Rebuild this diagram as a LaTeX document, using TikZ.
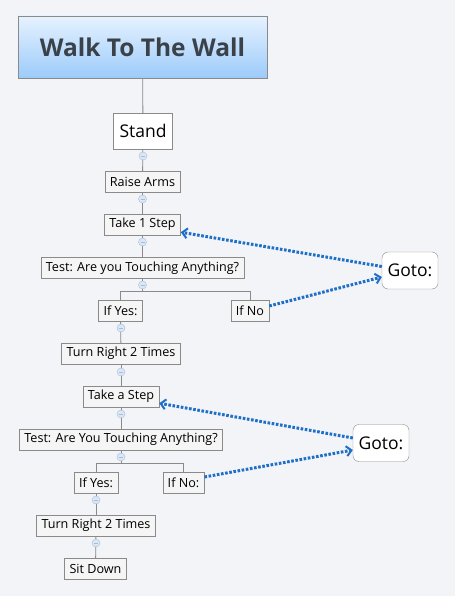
\documentclass[tikz,border=0pt]{standalone}
\usepackage{fontspec}
\setmainfont{Open Sans}
\usetikzlibrary{arrows.meta,positioning}

\definecolor{pagebg}{HTML}{F2F4F8}
\definecolor{titletop}{HTML}{E6F2FF}
\definecolor{titlebot}{HTML}{9CCBFA}
\definecolor{titletext}{HTML}{3A4149}
\definecolor{boxline}{HTML}{8A8A8A}
\definecolor{foldfill}{HTML}{DCE7F5}
\definecolor{folddraw}{HTML}{A8BCD8}
\definecolor{jumpblue}{HTML}{1F6FC9}

\begin{document}
\begin{tikzpicture}[
  x=1pt, y=-1pt,
  title/.style={rectangle, draw=boxline, top color=titletop, bottom color=titlebot,
                text=titletext, font=\fontsize{24.5}{28}\selectfont\bfseries,
                minimum width=249, minimum height=62},
  topic/.style={rectangle, draw=boxline, fill=white, font=\fontsize{17.5}{20}\selectfont,
                inner xsep=6pt, minimum height=36},
  task/.style={rectangle, draw=boxline, fill=white!96!black, font=\fontsize{12.6}{15}\selectfont,
               inner xsep=5pt, inner ysep=0pt, minimum height=21},
  jump/.style={rectangle, rounded corners=6pt, draw=boxline, fill=white,
               font=\fontsize{17.5}{20}\selectfont, minimum width=56, minimum height=37},
  link/.style={draw=boxline, line width=0.8pt},
  fold/.style={circle, draw=folddraw, fill=foldfill, inner sep=0pt, minimum size=8,
               path picture={\draw[folddraw, line width=0.6pt]
                 ([xshift=-2pt]path picture bounding box.center) --
                 ([xshift=2pt]path picture bounding box.center);}},
  goto/.style={-{Straight Barb[length=5pt, width=10pt, line width=2pt]},
               line width=3pt, dash pattern=on 2.6pt off 1.6pt, draw=jumpblue},
]

\fill[pagebg] (0,0) rectangle (455,596);
\useasboundingbox (0,0) rectangle (455,596);

% --- main branch ---
\node[title] (walk) at (142.5,47) {Walk To The Wall};
\node[topic] (stand) at (143,131) {Stand};
\node[task] (raise) at (142.5,181.5) {Raise Arms};
\node[task] (step1) at (142.5,224.5) {Take 1 Step};
\node[task] (test1) at (142.5,268) {Test: Are you Touching Anything?};
\node[task] (yes1) at (120.5,311) {If Yes:};
\node[task] (no1) at (250,311) {If No};

% --- second loop ---
\node[task] (turn1) at (121,353.5) {Turn Right 2 Times};
\node[task] (step2) at (121,396.5) {Take a Step};
\node[task] (test2) at (121,439.5) {Test: Are You Touching Anything?};
\node[task] (yes2) at (96,482.5) {If Yes:};
\node[task] (no2) at (183.5,482.5) {If No:};
\node[task] (turn2) at (96,525.5) {Turn Right 2 Times};
\node[task] (sit) at (95.5,568.5) {Sit Down};

% --- goto bubbles ---
\node[jump] (goto1) at (410,270.5) {Goto:};
\node[jump] (goto2) at (381,443) {Goto:};

% --- tree lines ---
\coordinate (fork1) at (142.5,291);
\coordinate (fork2) at (121,463);
\draw[link] (walk) -- (stand);
\draw[link] (stand) -- (raise);
\draw[link] (raise) -- (step1);
\draw[link] (step1) -- (test1);
\draw[link] (test1.south) -- (fork1) -| (yes1);
\draw[link] (fork1) -| (no1);
\draw[link] (yes1) -- (turn1);
\draw[link] (turn1) -- (step2);
\draw[link] (step2) -- (test2);
\draw[link] (test2.south) -- (fork2) -| (yes2);
\draw[link] (fork2) -| (no2);
\draw[link] (yes2) -- (turn2);
\draw[link] (turn2) -- (sit);

% --- collapse buttons ---
\foreach \n/\x/\y in {1/143/156, 2/142.5/199, 3/142.5/242, 4/142.5/285, 5/121/328,
                       6/121/372, 7/121/414, 8/121/457, 9/96/500, 10/96/543}
  \node[fold] (fold\n) at (\x,\y) {};

% --- goto jumps ---
\draw[goto] ([yshift=4pt]goto1.west) -- ([yshift=3pt]step1.south east);
\draw[goto] ([yshift=5pt]no1.east) -- ([yshift=-6.5pt]goto1.west);
\draw[goto] ([yshift=5pt]goto2.west) -- ([yshift=4pt]step2.south east);
\draw[goto] ([yshift=5.5pt]no2.east) -- ([yshift=-7pt]goto2.west);

\end{tikzpicture}
\end{document}
